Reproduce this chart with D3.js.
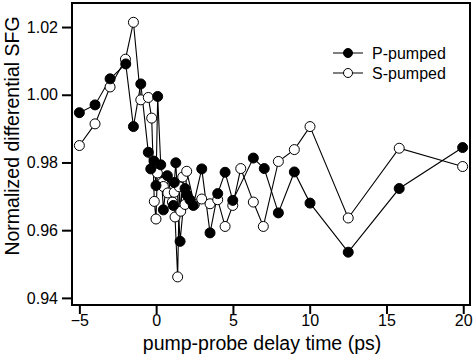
<!DOCTYPE html>
<html>
<head>
<meta charset="utf-8">
<script src="https://cdn.jsdelivr.net/npm/d3@7"></script>
<style>
  body { margin: 0; background: #fff; }
  svg { display: block; font-family: "Liberation Sans", Arial, Helvetica, sans-serif; }
</style>
</head>
<body>
<svg id="chart" width="474" height="355"></svg>
<script>
// ---- data ----
const pTimes  = [-5.0, -3.98, -3.0, -1.98, -1.48, -1.0, -0.51, -0.35, -0.14, -0.01, 0.10, 0.30, 0.47, 0.73, 1.12, 1.18, 1.28, 1.56, 1.88, 1.99, 2.2, 2.42, 2.97, 3.51, 4.01, 4.49, 4.99, 6.33, 7.04, 7.96, 9.0, 10.02, 12.51, 15.83, 19.96];
const pValues = [0.9947, 0.9970, 1.0047, 1.0091, 0.9906, 1.0032, 0.9830, 0.9781, 0.9804, 0.9732, 0.9995, 0.9793, 0.9660, 0.9761, 0.9673, 0.9741, 0.9799, 0.9567, 0.9723, 0.9705, 0.9690, 0.9673, 0.9781, 0.9592, 0.9708, 0.9771, 0.9688, 0.9813, 0.9782, 0.9651, 0.9772, 0.9680, 0.9535, 0.9723, 0.9844];
const sTimes  = [-5.0, -3.98, -3.0, -2.0, -1.48, -1.0, -0.51, -0.29, -0.12, -0.01, 0.08, 0.43, 0.47, 0.76, 1.06, 1.18, 1.23, 1.40, 1.51, 1.60, 1.73, 1.88, 1.99, 2.49, 2.97, 3.51, 4.01, 4.49, 4.99, 5.51, 6.33, 6.98, 7.96, 9.0, 10.02, 12.51, 15.83, 19.96];
const sValues = [0.9850, 0.9914, 1.0023, 1.0105, 1.0214, 0.9985, 0.9992, 0.9931, 0.9685, 0.9633, 0.9769, 0.9741, 0.9729, 0.9710, 0.9683, 0.9712, 0.9639, 0.9462, 0.9728, 0.9656, 0.9757, 0.9676, 0.9774, 0.9676, 0.9692, 0.9678, 0.9690, 0.9611, 0.9673, 0.9782, 0.9683, 0.9611, 0.9803, 0.9838, 0.9906, 0.9636, 0.9842, 0.9788];
const xTicks = [-5, 0, 5, 10, 15, 20];
const yTicks = [0.94, 0.96, 0.98, 1.00, 1.02];
const seriesNames = ["P-pumped", "S-pumped"];
const xTitle = "pump-probe delay time (ps)";
const yTitle = "Normalized differential SFG";

// ---- layout ----
const svg = d3.select("#chart");
const L = 72, R = 470, T = 3, B = 305;
const x = d3.scaleLinear().domain([-5.48, 20.44]).range([L, R]);
const y = d3.scaleLinear().domain([0.9379, 1.0271]).range([B, T]);

const series = [
  { name: seriesNames[0], data: pTimes.map((t, i) => [t, pValues[i]]), fill: "#000" },
  { name: seriesNames[1], data: sTimes.map((t, i) => [t, sValues[i]]), fill: "#fff" }
];

const line = d3.line().x(d => x(d[0])).y(d => y(d[1]));

series.slice().reverse().forEach(s => {
  svg.append("path").datum(s.data)
    .attr("d", line).attr("fill", "none")
    .attr("stroke", "#000").attr("stroke-width", 1.1);
});
series.slice().reverse().forEach(s => {
  svg.append("g").selectAll("circle").data(s.data).join("circle")
    .attr("cx", d => x(d[0])).attr("cy", d => y(d[1]))
    .attr("r", 5)
    .attr("fill", s.fill).attr("stroke", "#000").attr("stroke-width", 1);
});

// frame
svg.append("rect").attr("x", L).attr("y", T).attr("width", R - L).attr("height", B - T)
  .attr("fill", "none").attr("stroke", "#000").attr("stroke-width", 2);

// axes
const xAxis = svg.append("g").attr("transform", `translate(0,${B})`)
  .call(d3.axisBottom(x).tickValues(xTicks).tickFormat(d3.format("d")).tickSize(9).tickPadding(1));
const yAxis = svg.append("g").attr("transform", `translate(${L},0)`)
  .call(d3.axisLeft(y).tickValues(yTicks).tickFormat(d3.format(".2f")).tickSize(10).tickPadding(4));
[xAxis, yAxis].forEach(a => {
  a.select(".domain").remove();
  a.selectAll(".tick line").attr("stroke", "#000").attr("stroke-width", 2);
  a.selectAll(".tick text").attr("fill", "#000").attr("font-size", 16)
    .attr("font-family", "Liberation Sans, Arial, sans-serif");
});

// titles
svg.append("text").attr("x", 262).attr("y", 350)
  .attr("text-anchor", "middle").attr("font-size", 19.5).text(xTitle);
svg.append("text").attr("transform", `translate(19,136) rotate(-90)`)
  .attr("text-anchor", "middle").attr("font-size", 19.5).text(yTitle);

// legend
const leg = svg.append("g");
series.forEach((s, i) => {
  const ly = 53 + i * 20;
  leg.append("line").attr("x1", 333).attr("x2", 363).attr("y1", ly).attr("y2", ly)
    .attr("stroke", "#000").attr("stroke-width", 1);
  leg.append("circle").attr("cx", 348).attr("cy", ly).attr("r", 4.5)
    .attr("fill", s.fill).attr("stroke", "#000").attr("stroke-width", 1);
  leg.append("text").attr("x", 372).attr("y", ly + 6).attr("font-size", 16).text(s.name);
});
</script>
</body>
</html>
